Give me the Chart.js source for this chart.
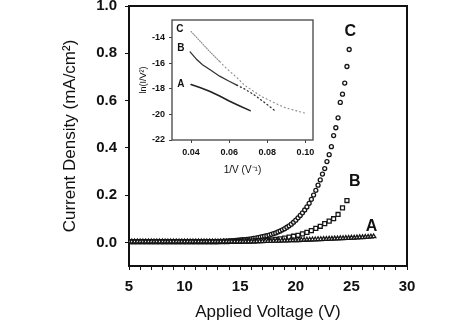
<!DOCTYPE html>
<html>
<head>
<meta charset="utf-8">
<script src="https://cdn.jsdelivr.net/npm/chart.js@4.4.0/dist/chart.umd.min.js"></script>
<style>
body { margin: 0; background: #fff; }
#wrap { position: relative; width: 474px; height: 333px; }
#mainChart { position: absolute; left: 0; top: 0; }
#insetChart { position: absolute; left: 135px; top: 14px; }
</style>
</head>
<body>
<div id="wrap">
<canvas id="mainChart" width="474" height="333"></canvas>
<canvas id="insetChart" width="185" height="166"></canvas>
</div>
<script>
// main plot: current density vs applied voltage
const voltageC = [
    5.0, 5.2, 5.4, 5.6, 5.8, 6.0, 6.2, 6.4, 6.6, 6.8,
    7.0, 7.2, 7.4, 7.6, 7.8, 8.0, 8.2, 8.4, 8.6, 8.8,
    9.0, 9.2, 9.4, 9.6, 9.8, 10.0, 10.2, 10.4, 10.6, 10.8,
    11.0, 11.2, 11.4, 11.6, 11.8, 12.0, 12.2, 12.4, 12.6, 12.8,
    13.0, 13.2, 13.4, 13.6, 13.8, 14.0, 14.2, 14.4, 14.6, 14.8,
    15.0, 15.2, 15.4, 15.6, 15.8, 16.0, 16.2, 16.4, 16.6, 16.8,
    17.0, 17.2, 17.4, 17.6, 17.8, 18.0, 18.2, 18.4, 18.6, 18.8,
    19.0, 19.2, 19.4, 19.6, 19.8, 20.0, 20.2, 20.4, 20.6, 20.8,
    21.0, 21.2, 21.4, 21.6, 21.8, 22.0, 22.2, 22.4, 22.6, 22.8,
    23.0, 23.2, 23.4, 23.6, 23.8, 24.0, 24.2, 24.4, 24.6, 24.8
];
const currentC = [
    0.003, 0.003, 0.003, 0.003, 0.003, 0.003, 0.003, 0.003, 0.003, 0.003,
    0.003, 0.003, 0.003, 0.003, 0.003, 0.003, 0.003, 0.003, 0.003, 0.003,
    0.003, 0.003, 0.003, 0.003, 0.003, 0.003, 0.003, 0.003, 0.003, 0.003,
    0.003, 0.003, 0.003, 0.003, 0.003, 0.003, 0.003, 0.003, 0.003, 0.003,
    0.003, 0.004, 0.004, 0.005, 0.005, 0.006, 0.006, 0.007, 0.008, 0.009,
    0.010, 0.011, 0.012, 0.013, 0.014, 0.015, 0.017, 0.018, 0.020, 0.022,
    0.024, 0.026, 0.028, 0.031, 0.034, 0.037, 0.040, 0.044, 0.048, 0.053,
    0.058, 0.064, 0.070, 0.077, 0.085, 0.094, 0.104, 0.114, 0.125, 0.137,
    0.150, 0.165, 0.182, 0.200, 0.220, 0.242, 0.264, 0.289, 0.312, 0.342,
    0.371, 0.405, 0.452, 0.485, 0.527, 0.592, 0.627, 0.674, 0.744, 0.816
];

const voltageB = [
    5.0, 5.4, 5.8, 6.2, 6.6, 7.0, 7.4, 7.8, 8.2, 8.6,
    9.0, 9.4, 9.8, 10.2, 10.6, 11.0, 11.4, 11.8, 12.2, 12.6,
    13.0, 13.4, 13.8, 14.2, 14.6, 15.0, 15.4, 15.8, 16.2, 16.6,
    17.0, 17.4, 17.8, 18.2, 18.6, 19.0, 19.4, 19.8, 20.2, 20.6,
    21.0, 21.4, 21.8, 22.2, 22.6, 23.0, 23.4, 23.8, 24.2, 24.6
];
const currentB = [
    0.003, 0.003, 0.003, 0.003, 0.003, 0.003, 0.003, 0.003, 0.003, 0.003,
    0.003, 0.003, 0.003, 0.003, 0.003, 0.003, 0.003, 0.003, 0.003, 0.003,
    0.003, 0.003, 0.003, 0.004, 0.004, 0.004, 0.005, 0.005, 0.006, 0.007,
    0.008, 0.009, 0.011, 0.013, 0.015, 0.018, 0.022, 0.026, 0.030, 0.036,
    0.042, 0.050, 0.059, 0.068, 0.079, 0.090, 0.100, 0.118, 0.146, 0.177
];

const voltageA = [
    5.0, 5.25, 5.5, 5.75, 6.0, 6.25, 6.5, 6.75,
    7.0, 7.25, 7.5, 7.75, 8.0, 8.25, 8.5, 8.75,
    9.0, 9.25, 9.5, 9.75, 10.0, 10.25, 10.5, 10.75,
    11.0, 11.25, 11.5, 11.75, 12.0, 12.25, 12.5, 12.75,
    13.0, 13.25, 13.5, 13.75, 14.0, 14.25, 14.5, 14.75,
    15.0, 15.25, 15.5, 15.75, 16.0, 16.25, 16.5, 16.75,
    17.0, 17.25, 17.5, 17.75, 18.0, 18.25, 18.5, 18.75,
    19.0, 19.25, 19.5, 19.75, 20.0, 20.25, 20.5, 20.75,
    21.0, 21.25, 21.5, 21.75, 22.0, 22.25, 22.5, 22.75,
    23.0, 23.25, 23.5, 23.75, 24.0, 24.25, 24.5, 24.75,
    25.0, 25.25, 25.5, 25.75, 26.0, 26.25, 26.5, 26.75,
    27.0
];
const currentA = [
    0.003, 0.003, 0.003, 0.003, 0.003, 0.003, 0.003, 0.003,
    0.003, 0.003, 0.003, 0.003, 0.003, 0.003, 0.003, 0.003,
    0.003, 0.003, 0.003, 0.003, 0.003, 0.003, 0.003, 0.003,
    0.003, 0.003, 0.003, 0.003, 0.003, 0.003, 0.003, 0.003,
    0.003, 0.003, 0.003, 0.003, 0.003, 0.003, 0.003, 0.003,
    0.003, 0.003, 0.003, 0.003, 0.003, 0.003, 0.004, 0.004,
    0.004, 0.005, 0.005, 0.005, 0.006, 0.006, 0.006, 0.007,
    0.007, 0.007, 0.008, 0.008, 0.009, 0.009, 0.010, 0.010,
    0.011, 0.011, 0.012, 0.012, 0.013, 0.013, 0.014, 0.014,
    0.015, 0.015, 0.016, 0.016, 0.017, 0.017, 0.018, 0.018,
    0.019, 0.019, 0.020, 0.021, 0.021, 0.022, 0.023, 0.024,
    0.025
];

const xTicks = [5, 6, 7, 8, 9, 10, 11, 12, 13, 14, 15, 16, 17, 18, 19, 20,
    21, 22, 23, 24, 25, 26, 27, 28, 29, 30];
const yTicks = [0, 0.2, 0.4, 0.6, 0.8, 1.0];

// curve letters, in data units
const mainLetters = [
    { text: 'C', x: 24.9, y: 0.89 },
    { text: 'B', x: 25.3, y: 0.257 },
    { text: 'A', x: 26.8, y: 0.068 }
];

// inset: ln(I/V^2) vs 1/V
const invVoltA = [0.040, 0.045, 0.050, 0.055, 0.060, 0.065, 0.071];
const lnA = [-17.65, -17.9, -18.2, -18.55, -18.95, -19.3, -19.7];
const invVoltB = [0.0395, 0.043, 0.046, 0.050, 0.055, 0.060, 0.064, 0.068, 0.073, 0.078, 0.084];
const lnB = [-15.1, -15.7, -16.1, -16.5, -17.0, -17.4, -17.7, -18.0, -18.45, -19.0, -19.7];
const invVoltC = [0.040, 0.045, 0.050, 0.055, 0.059, 0.064, 0.068, 0.073, 0.077, 0.082, 0.086, 0.090, 0.095, 0.100];
const lnC = [-13.5, -14.3, -15.1, -15.85, -16.45, -17.1, -17.7, -18.2, -18.6, -18.95, -19.25, -19.5, -19.7, -19.9];

const insetXTicks = [0.04, 0.06, 0.08, 0.10];
const insetYTicks = [-22, -20, -18, -16, -14];
const insetLetters = [
    { text: 'C', x: 0.0341, y: -13.35 },
    { text: 'B', x: 0.0347, y: -14.8 },
    { text: 'A', x: 0.0347, y: -17.65 }
];

Chart.defaults.font.family = "'Liberation Sans', Arial, sans-serif";
Chart.defaults.color = '#111';

function pairs(xs, ys) {
    return xs.map((v, i) => ({ x: v, y: ys[i] }));
}

const boxPlugin = {
    id: 'box',
    beforeDatasetsDraw(chart, args, opts) {
        const { ctx, chartArea: a } = chart;
        ctx.save();
        ctx.strokeStyle = opts.color;
        ctx.lineWidth = opts.width;
        ctx.strokeRect(a.left, a.top, a.right - a.left, a.bottom - a.top);
        ctx.restore();
    }
};

const letterPlugin = {
    id: 'letters',
    afterDatasetsDraw(chart, args, opts) {
        const { ctx, scales } = chart;
        ctx.save();
        ctx.font = opts.font;
        ctx.fillStyle = '#111';
        ctx.textAlign = 'center';
        ctx.textBaseline = 'middle';
        opts.items.forEach(it => {
            ctx.fillText(it.text, scales.x.getPixelForValue(it.x), scales.y.getPixelForValue(it.y));
        });
        ctx.restore();
    }
};

function markerSet(data, style, radius) {
    return {
        data,
        showLine: false,
        pointStyle: style,
        pointRadius: radius,
        pointBorderWidth: 1.3,
        pointBorderColor: '#151515',
        pointBackgroundColor: '#fff'
    };
}

new Chart(document.getElementById('mainChart'), {
    type: 'scatter',
    data: {
        datasets: [
            markerSet(pairs(voltageA, currentA), 'triangle', 2.5),
            markerSet(pairs(voltageB, currentB), 'rect', 2.8),
            markerSet(pairs(voltageC, currentC), 'circle', 2)
        ]
    },
    options: {
        responsive: false,
        animation: false,
        layout: { padding: { left: 0, right: 67, top: 6, bottom: 0 } },
        plugins: {
            legend: { display: false },
            tooltip: { enabled: false },
            box: { color: '#111', width: 2 },
            letters: { font: "bold 16px 'Liberation Sans', Arial, sans-serif", items: mainLetters }
        },
        scales: {
            x: {
                type: 'linear',
                min: 5,
                max: 30,
                afterBuildTicks: s => { s.ticks = xTicks.map(v => ({ value: v })); },
                afterFit: s => { s.height = 67; s.paddingLeft = 0; s.paddingRight = 0; },
                border: { display: false },
                grid: { drawOnChartArea: false, tickLength: 4, color: '#111' },
                ticks: {
                    autoSkip: false,
                    maxRotation: 0,
                    padding: 8,
                    font: { size: 15, weight: 'bold' },
                    callback: v => (v % 5 === 0 ? String(v) : '')
                },
                title: {
                    display: true,
                    text: 'Applied Voltage (V)',
                    font: { size: 17 },
                    padding: { top: 0, bottom: 10 }
                }
            },
            y: {
                min: -0.1,
                max: 1.0,
                afterBuildTicks: s => { s.ticks = yTicks.map(v => ({ value: v })); },
                afterFit: s => { s.width = 129; s.paddingTop = 0; s.paddingBottom = 0; },
                border: { display: false },
                grid: { drawOnChartArea: false, tickLength: 4, color: '#111' },
                ticks: {
                    padding: 8,
                    font: { size: 15, weight: 'bold' },
                    callback: v => v.toFixed(1)
                },
                title: {
                    display: true,
                    text: 'Current Density (mA/cm²)',
                    font: { size: 17 },
                    padding: { top: 60, bottom: 0 }
                }
            }
        }
    },
    plugins: [boxPlugin, letterPlugin]
});

function insetLine(data, color, width, dashFn) {
    return {
        data,
        showLine: true,
        pointRadius: 0,
        borderColor: color,
        borderWidth: width,
        borderCapStyle: 'round',
        segment: { borderDash: dashFn }
    };
}

new Chart(document.getElementById('insetChart'), {
    type: 'scatter',
    data: {
        datasets: [
            insetLine(pairs(invVoltA, lnA), '#222', 1.6, () => []),
            insetLine(pairs(invVoltB, lnB), '#333', 1.3, c => (c.p0.parsed.x > 0.062 ? [1, 3] : [])),
            insetLine(pairs(invVoltC, lnC), '#888', 1.1, c => (c.p0.parsed.x > 0.05 ? [1, 3] : [1, 1.5]))
        ]
    },
    options: {
        responsive: false,
        animation: false,
        layout: { padding: { left: 0, right: 7, top: 6, bottom: 0 } },
        plugins: {
            legend: { display: false },
            tooltip: { enabled: false },
            box: { color: '#444', width: 1.3 },
            letters: { font: "bold 10px 'Liberation Sans', Arial, sans-serif", items: insetLetters }
        },
        scales: {
            x: {
                type: 'linear',
                min: 0.03,
                max: 0.104,
                afterBuildTicks: s => { s.ticks = insetXTicks.map(v => ({ value: v })); },
                afterFit: s => { s.height = 40; s.paddingLeft = 0; s.paddingRight = 0; },
                border: { display: false },
                grid: { drawOnChartArea: false, tickLength: 3, color: '#444' },
                ticks: {
                    autoSkip: false,
                    maxRotation: 0,
                    padding: 4,
                    font: { size: 9, weight: 'bold' },
                    callback: v => v.toFixed(2)
                },
                title: {
                    display: true,
                    text: '1/V (V⁻¹)',
                    font: { size: 10 },
                    padding: { top: 0, bottom: 4 }
                }
            },
            y: {
                min: -22,
                max: -12.6,
                afterBuildTicks: s => { s.ticks = insetYTicks.map(v => ({ value: v })); },
                afterFit: s => { s.width = 37; s.paddingTop = 0; s.paddingBottom = 0; },
                border: { display: false },
                grid: { drawOnChartArea: false, tickLength: 3, color: '#444' },
                ticks: {
                    padding: 4,
                    font: { size: 9, weight: 'bold' },
                    callback: v => String(v)
                },
                title: {
                    display: true,
                    text: 'ln(I/V²)',
                    font: { size: 9 },
                    padding: { top: 3, bottom: 0 }
                }
            }
        }
    },
    plugins: [boxPlugin, letterPlugin]
});
</script>
</body>
</html>
